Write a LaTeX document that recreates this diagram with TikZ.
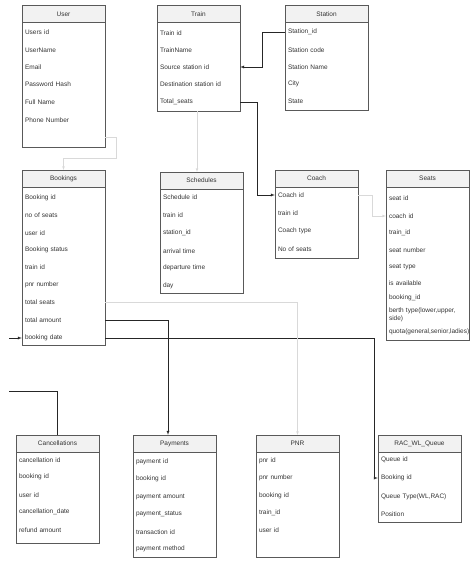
\documentclass[tikz,border=0pt]{standalone}
\usepackage{fontspec}
\setmainfont{Liberation Sans}
\usetikzlibrary{arrows}
\tikzset{
  hdr/.style={draw=black!65, fill=black!5, text=black!80, minimum width=83pt, minimum height=17pt, inner sep=0pt, font=\fontsize{6.5}{7.5}\selectfont},
  fld/.style={text=black!80, text width=77pt, inner xsep=3pt, inner ysep=1pt, align=left, font=\fontsize{6.5}{7.5}\selectfont},
  tbl/.style={draw=black!65},
  link/.style={black!85, -latex},
  faint/.style={black!15, very thin, -latex}
}

\begin{document}
\begin{tikzpicture}[x=1pt, y=-1pt]
  \useasboundingbox (0,0) rectangle (474,564);

  % User
  \node[hdr] (usr) at (63.5,14) {User};
  \draw[tbl] (usr.south west) -- ++(0,125) -- ++(83,0) -- ++(0,-125);
  \node[fld] (usr-id) at (63.5,32) {Users id};
  \node[fld] (usr-name) at (63.5,50) {UserName};
  \node[fld] (usr-mail) at (63.5,67) {Email};
  \node[fld] (usr-pw) at (63.5,84) {Password Hash};
  \node[fld] (usr-full) at (63.5,102) {Full Name};
  \node[fld] (usr-ph) at (63.5,120) {Phone Number};
  \coordinate (usr-out) at (105,137);

  % Train
  \node[hdr] (trn) at (198.5,14) {Train};
  \draw[tbl] (trn.south west) -- ++(0,89) -- ++(83,0) -- ++(0,-89);
  \node[fld] (trn-id) at (198.5,33) {Train id};
  \node[fld] (trn-name) at (198.5,50) {TrainName};
  \node[fld] (trn-src) at (198.5,67) {Source station id};
  \node[fld] (trn-dst) at (198.5,84) {Destination station id};
  \node[fld] (trn-seats) at (198.5,102) {Total\_seats};
  \coordinate (trn-out) at (197,111);

  % Station
  \node[hdr] (sta) at (326.5,14) {Station};
  \draw[tbl] (sta.south west) -- ++(0,88) -- ++(83,0) -- ++(0,-88);
  \node[fld] (sta-id) at (326.5,32) {Station\_id};
  \node[fld] (sta-code) at (326.5,50) {Station code};
  \node[fld] (sta-name) at (326.5,67) {Station Name};
  \node[fld] (sta-city) at (326.5,84) {City};
  \node[fld] (sta-state) at (326.5,101) {State};

  % Bookings
  \node[hdr] (bkg) at (63.5,178.5) {Bookings};
  \draw[tbl] (bkg.south west) -- ++(0,158) -- ++(83,0) -- ++(0,-158);
  \node[fld] (bkg-id) at (63.5,198) {Booking id};
  \node[fld] (bkg-no) at (63.5,215) {no of seats};
  \node[fld] (bkg-usr) at (63.5,233) {user id};
  \node[fld] (bkg-st) at (63.5,250) {Booking status};
  \node[fld] (bkg-trn) at (63.5,267) {train id};
  \node[fld] (bkg-pnr) at (63.5,285) {pnr number};
  \node[fld] (bkg-tseat) at (63.5,302) {total seats};
  \node[fld] (bkg-amt) at (63.5,320) {total amount};
  \node[fld] (bkg-date) at (63.5,338) {booking date};

  % Schedules
  \node[hdr] (sch) at (201.5,180.5) {Schedules};
  \draw[tbl] (sch.south west) -- ++(0,104) -- ++(83,0) -- ++(0,-104);
  \node[fld] (sch-id) at (201.5,197) {Schedule id};
  \node[fld] (sch-trn) at (201.5,215) {train id};
  \node[fld] (sch-sta) at (201.5,233) {station\_id};
  \node[fld] (sch-arr) at (201.5,251) {arrival time};
  \node[fld] (sch-dep) at (201.5,268) {departure time};
  \node[fld] (sch-day) at (201.5,286) {day};

  % Coach
  \node[hdr] (coa) at (316.5,178.5) {Coach};
  \draw[tbl] (coa.south west) -- ++(0,71) -- ++(83,0) -- ++(0,-71);
  \node[fld] (coa-id) at (316.5,195) {Coach id};
  \node[fld] (coa-trn) at (316.5,213) {train id};
  \node[fld] (coa-type) at (316.5,231) {Coach type};
  \node[fld] (coa-no) at (316.5,249) {No of seats};

  % Seats
  \node[hdr] (sea) at (427.5,178.5) {Seats};
  \draw[tbl] (sea.south west) -- ++(0,153) -- ++(83,0) -- ++(0,-153);
  \node[fld] (sea-id) at (427.5,198) {seat id};
  \node[fld] (sea-coa) at (427.5,216) {coach id};
  \node[fld] (sea-trn) at (427.5,233) {train\_id};
  \node[fld] (sea-no) at (427.5,250) {seat number};
  \node[fld] (sea-type) at (427.5,267) {seat type};
  \node[fld] (sea-av) at (427.5,283) {is available};
  \node[fld] (sea-bkg) at (427.5,298) {booking\_id};
  \node[fld] (sea-berth) at (427.5,315) {berth type(lower,upper,\\side)};
  \node[fld] (sea-quota) at (427.5,332) {quota(general,senior,ladies)};

  % Cancellations
  \node[hdr] (cnc) at (57.5,443.5) {Cancellations};
  \draw[tbl] (cnc.south west) -- ++(0,91) -- ++(83,0) -- ++(0,-91);
  \node[fld] (cnc-id) at (57.5,460) {cancellation id};
  \node[fld] (cnc-bkg) at (57.5,477) {booking id};
  \node[fld] (cnc-usr) at (57.5,495) {user id};
  \node[fld] (cnc-date) at (57.5,512) {cancellation\_date};
  \node[fld] (cnc-amt) at (57.5,530) {refund amount};

  % Payments
  \node[hdr] (pay) at (174.5,443.5) {Payments};
  \draw[tbl] (pay.south west) -- ++(0,105) -- ++(83,0) -- ++(0,-105);
  \node[fld] (pay-id) at (174.5,462) {payment id};
  \node[fld] (pay-bkg) at (174.5,479) {booking id};
  \node[fld] (pay-amt) at (174.5,497) {payment amount};
  \node[fld] (pay-st) at (174.5,514) {payment\_status};
  \node[fld] (pay-tx) at (174.5,532) {transaction id};
  \node[fld] (pay-m) at (174.5,549) {payment method};

  % PNR
  \node[hdr] (pnr) at (297.5,443.5) {PNR};
  \draw[tbl] (pnr.south west) -- ++(0,105) -- ++(83,0) -- ++(0,-105);
  \node[fld] (pnr-id) at (297.5,461) {pnr id};
  \node[fld] (pnr-no) at (297.5,478) {pnr number};
  \node[fld] (pnr-bkg) at (297.5,496) {booking id};
  \node[fld] (pnr-trn) at (297.5,513) {train\_id};
  \node[fld] (pnr-usr) at (297.5,530) {user id};

  % RAC_WL_Queue
  \node[hdr] (rac) at (419.5,443.5) {RAC\_WL\_Queue};
  \draw[tbl] (rac.south west) -- ++(0,70) -- ++(83,0) -- ++(0,-70);
  \node[fld] (rac-id) at (419.5,460) {Queue id};
  \node[fld] (rac-bkg) at (419.5,478) {Booking id};
  \node[fld] (rac-type) at (419.5,497) {Queue Type(WL,RAC)};
  \node[fld] (rac-pos) at (419.5,514) {Position};

  % links
  \coordinate (lft-a) at (9,338);
  \coordinate (lft-b) at (9,391);
  \draw[link] (sta-id.west) -- ++(-23,0) |- (trn-src.east);
  \draw[link] (trn-seats.east) -- ++(17,0) |- (coa-id.west);
  \draw[link] (bkg-amt.east) -| ([xshift=-6.5pt]pay.north);
  \draw[link] (bkg-date.east) -- ++(269,0) |- (rac-bkg.west);
  \draw[link] (lft-a) -- (bkg-date.west);
  \draw[link, -] (lft-b) -| (cnc.north);
  \draw[faint] (usr-out) -- ++(11,0) -- ++(0,21) -| (bkg.north);
  \draw[faint] (trn-out) -- (trn-out |- sch.north);
  \draw[faint] (bkg-tseat.east) -| (pnr.north);
  \draw[faint] (coa-id.east) -- ++(14,0) |- (sea-coa.west);
\end{tikzpicture}
\end{document}
